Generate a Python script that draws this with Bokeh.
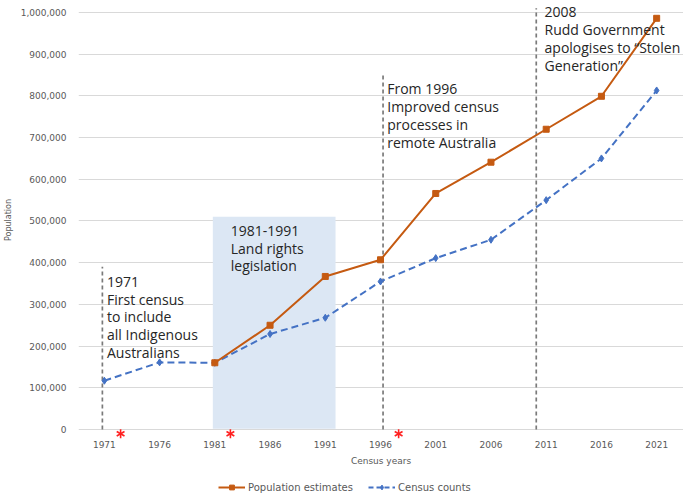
import math
from bokeh.plotting import figure
from bokeh.layouts import column
from bokeh.models import (Range1d, FixedTicker, NumeralTickFormatter, Label,
                          BoxAnnotation, Legend, LegendItem, ColumnDataSource)
from bokeh.embed import file_html
from bokeh.resources import INLINE

# ---- data ----
census_years = [1971, 1976, 1981, 1986, 1991, 1996, 2001, 2006, 2011, 2016, 2021]
census_counts = [117000, 161000, 160000, 229000, 268000, 355000, 411000, 455000, 550000, 650000, 813000]
estimate_years = [1981, 1986, 1991, 1996, 2001, 2006, 2011, 2016, 2021]
population_estimates = [160000, 250000, 367000, 407000, 566000, 641000, 720000, 799000, 986000]
y_ticks = [0, 100000, 200000, 300000, 400000, 500000, 600000, 700000, 800000, 900000, 1000000]

event_years = [1970.82, 1996.23, 2010.1]
event_tops = [390000, 850000, 1010000]
asterisk_years = [1972.47, 1982.41, 1997.64]
asterisk_vals = [-10000, -10000, -10000]
land_rights_span = (1980.82, 1991.93, 510000)

ORANGE = "#c55a11"
BLUE = "#4472c4"
GREY = "#595959"
TXT = "#262626"

p = figure(width=683, height=468, output_backend="svg", toolbar_location=None,
           x_range=Range1d(1968.658, 2023.43), y_range=Range1d(-23930, 1028700),
           min_border_top=0, min_border_right=0, min_border_left=75,
           min_border_bottom=28)
p.outline_line_color = None
p.background_fill_color = "white"

# axes
p.xaxis.ticker = FixedTicker(ticks=census_years)
p.yaxis.ticker = FixedTicker(ticks=y_ticks)
p.yaxis.formatter = NumeralTickFormatter(format="0,0")
for ax in (p.xaxis, p.yaxis):
    ax.axis_line_color = None
    ax.major_tick_line_color = None
    ax.minor_tick_line_color = None
    ax.major_tick_out = 0
    ax.major_tick_in = 0
    ax.major_label_text_font = "DejaVu Sans"
    ax.major_label_text_font_size = "9px"
    ax.major_label_text_color = GREY
    ax.axis_label_text_font = "DejaVu Sans"
    ax.axis_label_text_font_style = "normal"
    ax.axis_label_text_color = GREY
p.xaxis.axis_label = "Census years"
p.xaxis.axis_label_text_font_size = "9px"
p.xaxis.major_label_standoff = 1
p.xaxis.axis_label_standoff = 5
p.yaxis.axis_label = "Population"
p.yaxis.axis_label_text_font_size = "8px"
p.yaxis.major_label_standoff = 12
p.yaxis.axis_label_standoff = 5
p.xgrid.grid_line_color = None
p.ygrid.grid_line_color = "#d9d9d9"
p.ygrid.grid_line_width = 1
p.ygrid.ticker = FixedTicker(ticks=y_ticks)

# shaded land-rights period
p.add_layout(BoxAnnotation(left=land_rights_span[0], right=land_rights_span[1],
                           bottom=2000, top=land_rights_span[2],
                           fill_color="#dce7f4", fill_alpha=1.0, line_color=None, level="underlay"))

# dashed event lines
p.segment(x0=event_years, y0=[0, 0, 0], x1=event_years, y1=event_tops,
          line_color="#7a7a7a", line_width=1.7, line_dash="4 3")

# series
src_c = ColumnDataSource(dict(x=census_years, y=census_counts))
src_e = ColumnDataSource(dict(x=estimate_years, y=population_estimates))
p.line("x", "y", source=src_c, line_color=BLUE, line_width=2, line_dash="7 4")
p.scatter("x", "y", source=src_c, marker="diamond", size=7, fill_color=BLUE, line_color=BLUE)
p.line("x", "y", source=src_e, line_color=ORANGE, line_width=2)
p.scatter("x", "y", source=src_e, marker="square", size=6, fill_color=ORANGE, line_color=ORANGE)

# red asterisks
for ang in (math.pi / 2, math.pi / 6, 5 * math.pi / 6):
    p.scatter(x=asterisk_years, y=asterisk_vals, marker="dash", size=9, angle=ang,
              line_color="#ff2020", line_width=1.6)

# annotation texts
notes = [
    (1971.24, 377600, 0.93, "1971\nFirst census\nto include\nall Indigenous\nAustralians"),
    (1982.44, 499700, 0.93, "1981-1991\nLand rights\nlegislation"),
    (1996.61, 840400, 0.95, "From 1996\nImproved census\nprocesses in\nremote Australia"),
    (2010.85, 1026000, 0.96, "2008\nRudd Government\napologises to \u201cStolen\nGeneration\u201d"),
]
for x, y, lh, t in notes:
    p.add_layout(Label(x=x, y=y, text=t, text_font="Open Sans", text_font_size="14px",
                       text_color=TXT, text_baseline="top", text_align="left",
                       text_line_height=lh))

# legend strip (separate small figure holding only the legend keys;
# its ranges keep the series themselves out of view)
q = figure(width=683, height=26, output_backend="svg", toolbar_location=None,
           x_axis_location=None, y_axis_location=None,
           min_border=0, x_range=Range1d(0, 1), y_range=Range1d(0, 1))
q.outline_line_color = None
q.xgrid.grid_line_color = None
q.ygrid.grid_line_color = None
ke_l = q.line("x", "y", source=src_e, line_color=ORANGE, line_width=2)
ke_m = q.scatter("x", "y", source=src_e, marker="square", size=6, fill_color=ORANGE, line_color=ORANGE)
kc_l = q.line("x", "y", source=src_c, line_color=BLUE, line_width=2, line_dash="5 3")
kc_m = q.scatter("x", "y", source=src_c, marker="diamond", size=7, fill_color=BLUE, line_color=BLUE)

legend_style = dict(orientation="horizontal", label_text_font="DejaVu Sans",
                    label_text_font_size="10px", label_text_color=GREY,
                    glyph_width=27, glyph_height=12, label_standoff=3,
                    padding=2, margin=0, border_line_color=None,
                    background_fill_alpha=0)
q.add_layout(Legend(items=[LegendItem(label="Population estimates", renderers=[ke_l, ke_m])],
                    location=(140, 1), **legend_style))
q.add_layout(Legend(items=[LegendItem(label="Census counts", renderers=[kc_l, kc_m])],
                    location=(290, 1), **legend_style))

layout = column(p, q, spacing=0)
open("out.html", "w").write(file_html(layout, INLINE))
